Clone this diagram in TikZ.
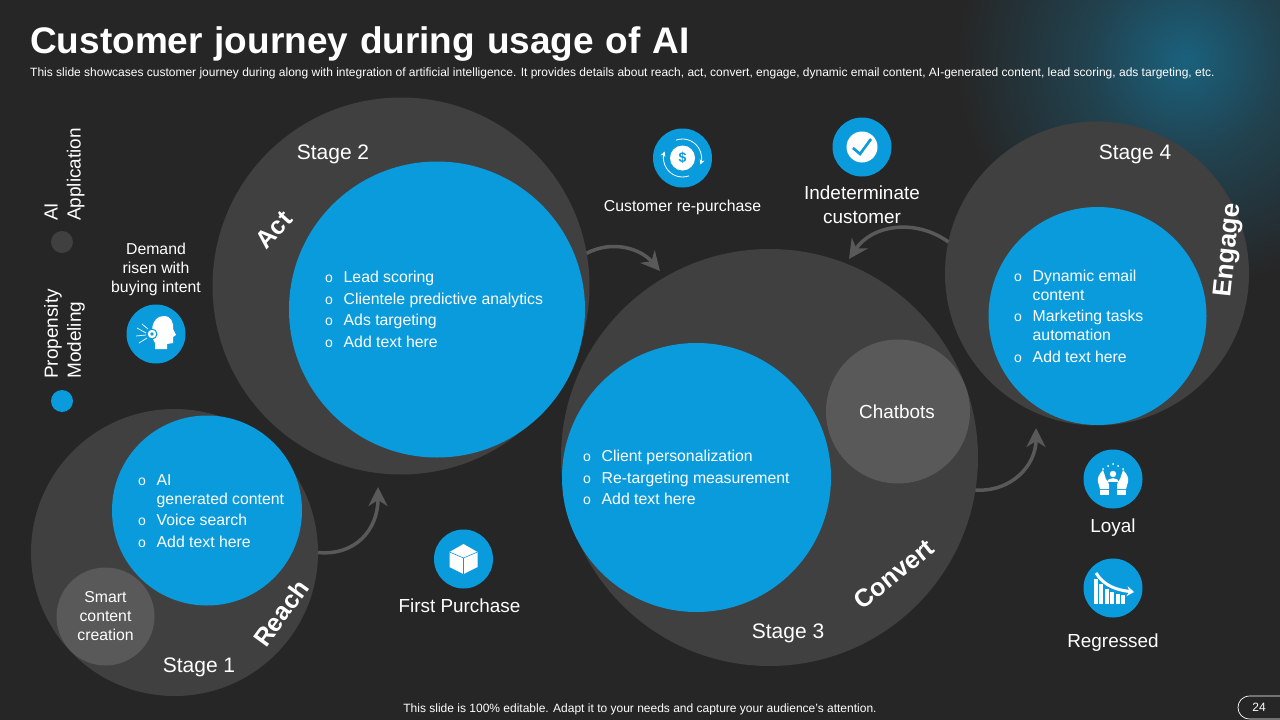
\documentclass[tikz,border=0pt]{standalone}
\usepackage{fontspec}
\setmainfont{Liberation Sans}
\usetikzlibrary{arrows.meta}
\definecolor{slidebg}{HTML}{262626}
\definecolor{glowblue}{HTML}{1A617D}
\definecolor{glowmid}{HTML}{21424F}
\definecolor{stagegray}{HTML}{404040}
\definecolor{toolgray}{HTML}{595959}
\definecolor{aiblue}{HTML}{0A9BDC}
\pgfdeclareradialshading{slideglow}{\pgfpointorigin}{color(0bp)=(glowblue); color(8bp)=(glowmid); color(19bp)=(slidebg); color(50bp)=(slidebg)}
\newcommand{\bulletline}[1]{\makebox[18.5pt][l]{\fontsize{14}{14}\selectfont o}#1}
\newcommand{\bulletgap}{\hspace*{18.5pt}}
\newcommand{\titlegap}{\hspace{11.8pt}}
\tikzset{
  disc/.style={circle, inner sep=0pt, outer sep=0pt, minimum size=#1},
  stageouter/.style={disc=#1, fill=stagegray},
  stageinner/.style={disc=#1, fill=aiblue},
  toolcircle/.style={disc=#1, fill=toolgray},
  icondisc/.style={disc=59pt, fill=aiblue},
  listtext/.style={text=white, anchor=west, align=left, inner sep=0pt, font=\fontsize{15.8}{21.5}\selectfont},
  stagelabel/.style={text=white, inner sep=0pt, font=\fontsize{21}{24}\selectfont},
  phaselabel/.style={text=white, inner sep=0pt, font=\bfseries\fontsize{25}{30}\selectfont},
  smalllabel/.style={text=white, inner sep=0pt, align=center, font=\fontsize{15.8}{19}\selectfont},
  midlabel/.style={text=white, inner sep=0pt, align=center, font=\fontsize{18.9}{24}\selectfont},
  legendlabel/.style={text=white, inner sep=0pt, align=left, rotate=90, anchor=west, font=\fontsize{19}{23}\selectfont},
  flowarrow/.style={draw=toolgray, line width=3.5pt, -{Stealth[length=19pt, width=19pt, inset=6pt]}}
}

\begin{document}
\begin{tikzpicture}[x=1pt, y=-1pt]
\useasboundingbox (0,0) rectangle (1280,720);
\clip (0,0) rectangle (1280,720);

% Background
\fill[slidebg] (0,0) rectangle (1280,720);
\shade[shading=slideglow] (1185,60) circle (300);

% Title
\node[text=white, anchor=west, inner sep=0pt, font=\bfseries\fontsize{37}{40}\selectfont] (title) at (30,44) {Customer\titlegap{}journey\titlegap{}during\titlegap{}usage\titlegap{}of\titlegap{}AI};
\node[text=white, anchor=west, inner sep=0pt, font=\fontsize{12}{14}\selectfont] (subtitle) at (30,73) {This slide showcases customer journey during along with integration of artificial intelligence. It provides details about reach, act, convert, engage, dynamic email content, AI-generated content, lead scoring, ads targeting, etc.};

% Stage circles
\node[stageouter=287pt] (reachouter) at (174.5,552.5) {};
\node[stageouter=377pt] (actouter) at (401,286) {};
\node[stageouter=417pt] (convertouter) at (769.5,457.5) {};
\node[stageouter=304pt] (engageouter) at (1097,273.5) {};
\node[stageinner=190pt] (reachinner) at (207,510.5) {};
\node[stageinner=296pt] (actinner) at (437,309.5) {};
\node[stageinner=269pt] (convertinner) at (696.5,477.5) {};
\node[stageinner=218pt] (engageinner) at (1097.5,316) {};
\node[toolcircle=98pt] (smartcontent) at (105.5,616.5) {};
\node[toolcircle=144pt] (chatbots) at (898,411.5) {};

% Arrows
\coordinate (actarrowend) at (378,487);
\coordinate (convertarrowend) at (660,271);
\coordinate (indetarrowend) at (849,259);
\coordinate (engagearrowend) at (1036,428);
\draw[flowarrow] (reachouter.0) .. controls (355,556) and (378,530) .. (actarrowend);
\draw[flowarrow] (actouter.10) .. controls (612,240) and (640,248) .. (convertarrowend);
\draw[flowarrow] (engageouter.168) .. controls (915,218) and (872,225) .. (indetarrowend);
\draw[flowarrow] (convertouter.-9) .. controls (1012,492) and (1036,465) .. (engagearrowend);

% Stage labels
\node[stagelabel] (stageone) at (199,667) {Stage 1};
\node[stagelabel] (stagetwo) at (333,154) {Stage 2};
\node[stagelabel] (stagethree) at (788,633) {Stage 3};
\node[stagelabel] (stagefour) at (1135,154) {Stage 4};
\node[phaselabel, rotate=54] (reachname) at (281,613) {Reach};
\node[phaselabel, rotate=48] (actname) at (274,230) {Act};
\node[phaselabel, rotate=39] (convertname) at (894,574) {Convert};
\node[phaselabel, rotate=84, font=\bfseries\fontsize{26}{30}\selectfont] (engagename) at (1229,250) {Engage};

% Lists
\node[listtext] (reachlist) at (138,511) {\bulletline{AI}\\[-2.5pt]\bulletgap generated content\\\bulletline{Voice search}\\\bulletline{Add text here}};
\node[listtext] (actlist) at (325,309.5) {\bulletline{Lead scoring}\\\bulletline{Clientele predictive analytics}\\\bulletline{Ads targeting}\\\bulletline{Add text here}};
\node[listtext] (convertlist) at (583,477.5) {\bulletline{Client personalization}\\\bulletline{Re-targeting measurement}\\\bulletline{Add text here}};
\node[listtext] (engagelist) at (1014,316) {\bulletline{Dynamic email}\\[-2.5pt]\bulletgap content\\\bulletline{Marketing tasks}\\[-2.5pt]\bulletgap automation\\\bulletline{Add text here}};
\node[smalllabel] (smartlabel) at (105.5,616) {Smart\\content\\creation};
\node[midlabel] (chatbotslabel) at (897,412) {Chatbots};

% Legend
\node[disc=22pt, fill=stagegray] (aidot) at (62,242) {};
\node[disc=22pt, fill=aiblue] (propdot) at (62,401) {};
\node[legendlabel] (ailabel) at (64.5,221) {AI\\Application};
\node[legendlabel] (proplabel) at (64.5,379) {Propensity\\Modeling};

% Icon circles
\node[icondisc] (demandicon) at (156,334) {};
\node[icondisc] (repurchaseicon) at (682.5,158) {};
\node[icondisc] (indeticon) at (862,147) {};
\node[icondisc] (purchaseicon) at (463.5,559) {};
\node[icondisc] (loyalicon) at (1113,479) {};
\node[icondisc] (regressedicon) at (1113,588) {};

% Icon labels
\node[smalllabel] (demandlabel) at (156,269) {Demand\\risen with\\buying intent};
\node[smalllabel] (repurchaselabel) at (682.5,207) {Customer re-purchase};
\node[midlabel] (indetlabel) at (862,205) {Indeterminate\\customer};
\node[midlabel] (purchaselabel) at (459.5,606) {First Purchase};
\node[midlabel] (loyallabel) at (1113,528) {Loyal};
\node[midlabel] (regressedlabel) at (1113,643) {Regressed};

% Head with gear
\begin{scope}[shift={(156,334)}]
\fill[white] (-1,15) -- (-1,9) .. controls (-6,2) and (-6,-18) .. (8,-18) .. controls (15,-18) and (18,-11) .. (17,-5) -- (20,1) -- (17,3) -- (17,9) -- (11,10) -- (11,15) -- cycle;
\fill[aiblue] (-4,0) circle (5.5);
\fill[white] (-4,0) circle (4.2);
\fill[aiblue] (-4,0) circle (1.8);
\draw[white, line width=0.7pt] (-10,-1) -- (-19,-6) (-10,1) -- (-20,2) (-9,4) -- (-17,9) (-8,-5) -- (-14,-10);
\end{scope}

% Dollar with arrows
\begin{scope}[shift={(682.5,158)}]
\fill[white] (0,0) circle (12.5);
\node[text=aiblue, inner sep=0pt, font=\bfseries\fontsize{14}{14}\selectfont] (dollarsign) at (0,0) {\$};
\draw[white, line width=0.8pt, -{Stealth[length=5pt, width=5pt]}] (-110:19) arc[start angle=-110, end angle=20, radius=19];
\draw[white, line width=0.8pt, -{Stealth[length=5pt, width=5pt]}] (70:19) arc[start angle=70, end angle=200, radius=19];
\end{scope}

% Check mark
\begin{scope}[shift={(862,147)}]
\fill[white] (0,0) circle (15.5);
\draw[aiblue, line width=2.6pt] (-9,1) -- (-2,7) -- (9,-8);
\end{scope}

% Cube
\begin{scope}[shift={(463.5,559)}]
\fill[white] (0,-15) -- (14,-7) -- (14,8) -- (0,15) -- (-14,8) -- (-14,-7) -- cycle;
\draw[aiblue, line width=0.6pt] (-14,-7) -- (0,-1) -- (14,-7) (0,-1) -- (0,15);
\end{scope}

% Hands with person
\begin{scope}[shift={(1113,479)}]
\fill[white] (0,-5) circle (3.2);
\fill[white] (-6,3) .. controls (-6,-2) and (6,-2) .. (6,3) -- cycle;
\foreach \dotx/\doty in {-10/-10, -5/-13, 0/-15, 5/-13, 10/-10} {
  \fill[white] (\dotx,\doty) circle (1);
}
\foreach \side in {-1,1} {
  \begin{scope}[xscale=\side]
  \fill[white] (4,10) -- (4,6) .. controls (4,3) and (8,0) .. (8,-3) -- (10,-9) .. controls (14,-5) and (16,-1) .. (15,3) -- (13,10) -- cycle;
  \fill[white] (4,11) rectangle (13,16);
  \end{scope}
}
\end{scope}

% Falling bars
\begin{scope}[shift={(1113,588)}]
\foreach \barx/\bartop in {-19/-9, -14/-4, -8/1, -3/4, 3/6, 8/7} {
  \fill[white] (\barx,\bartop) rectangle ++(3.6,{16-\bartop});
}
\draw[white, line width=3pt, -{Stealth[length=7pt, width=10pt]}] (-17,-15) .. controls (-9,-2) and (4,2) .. (21,4);
\end{scope}

% Footer
\node[text=white, inner sep=0pt, font=\fontsize{12}{14}\selectfont] (footer) at (640,709) {This slide is 100\% editable. Adapt it to your needs and capture your audience's attention.};
\node[text=white, inner sep=0pt, font=\fontsize{12}{14}\selectfont] (pagenum) at (1259,707) {24};
\draw[white, line width=0.7pt] (1280,696) -- (1250,696) .. controls (1234,696) and (1234,719) .. (1250,719) -- (1280,719);
\end{tikzpicture}
\end{document}
